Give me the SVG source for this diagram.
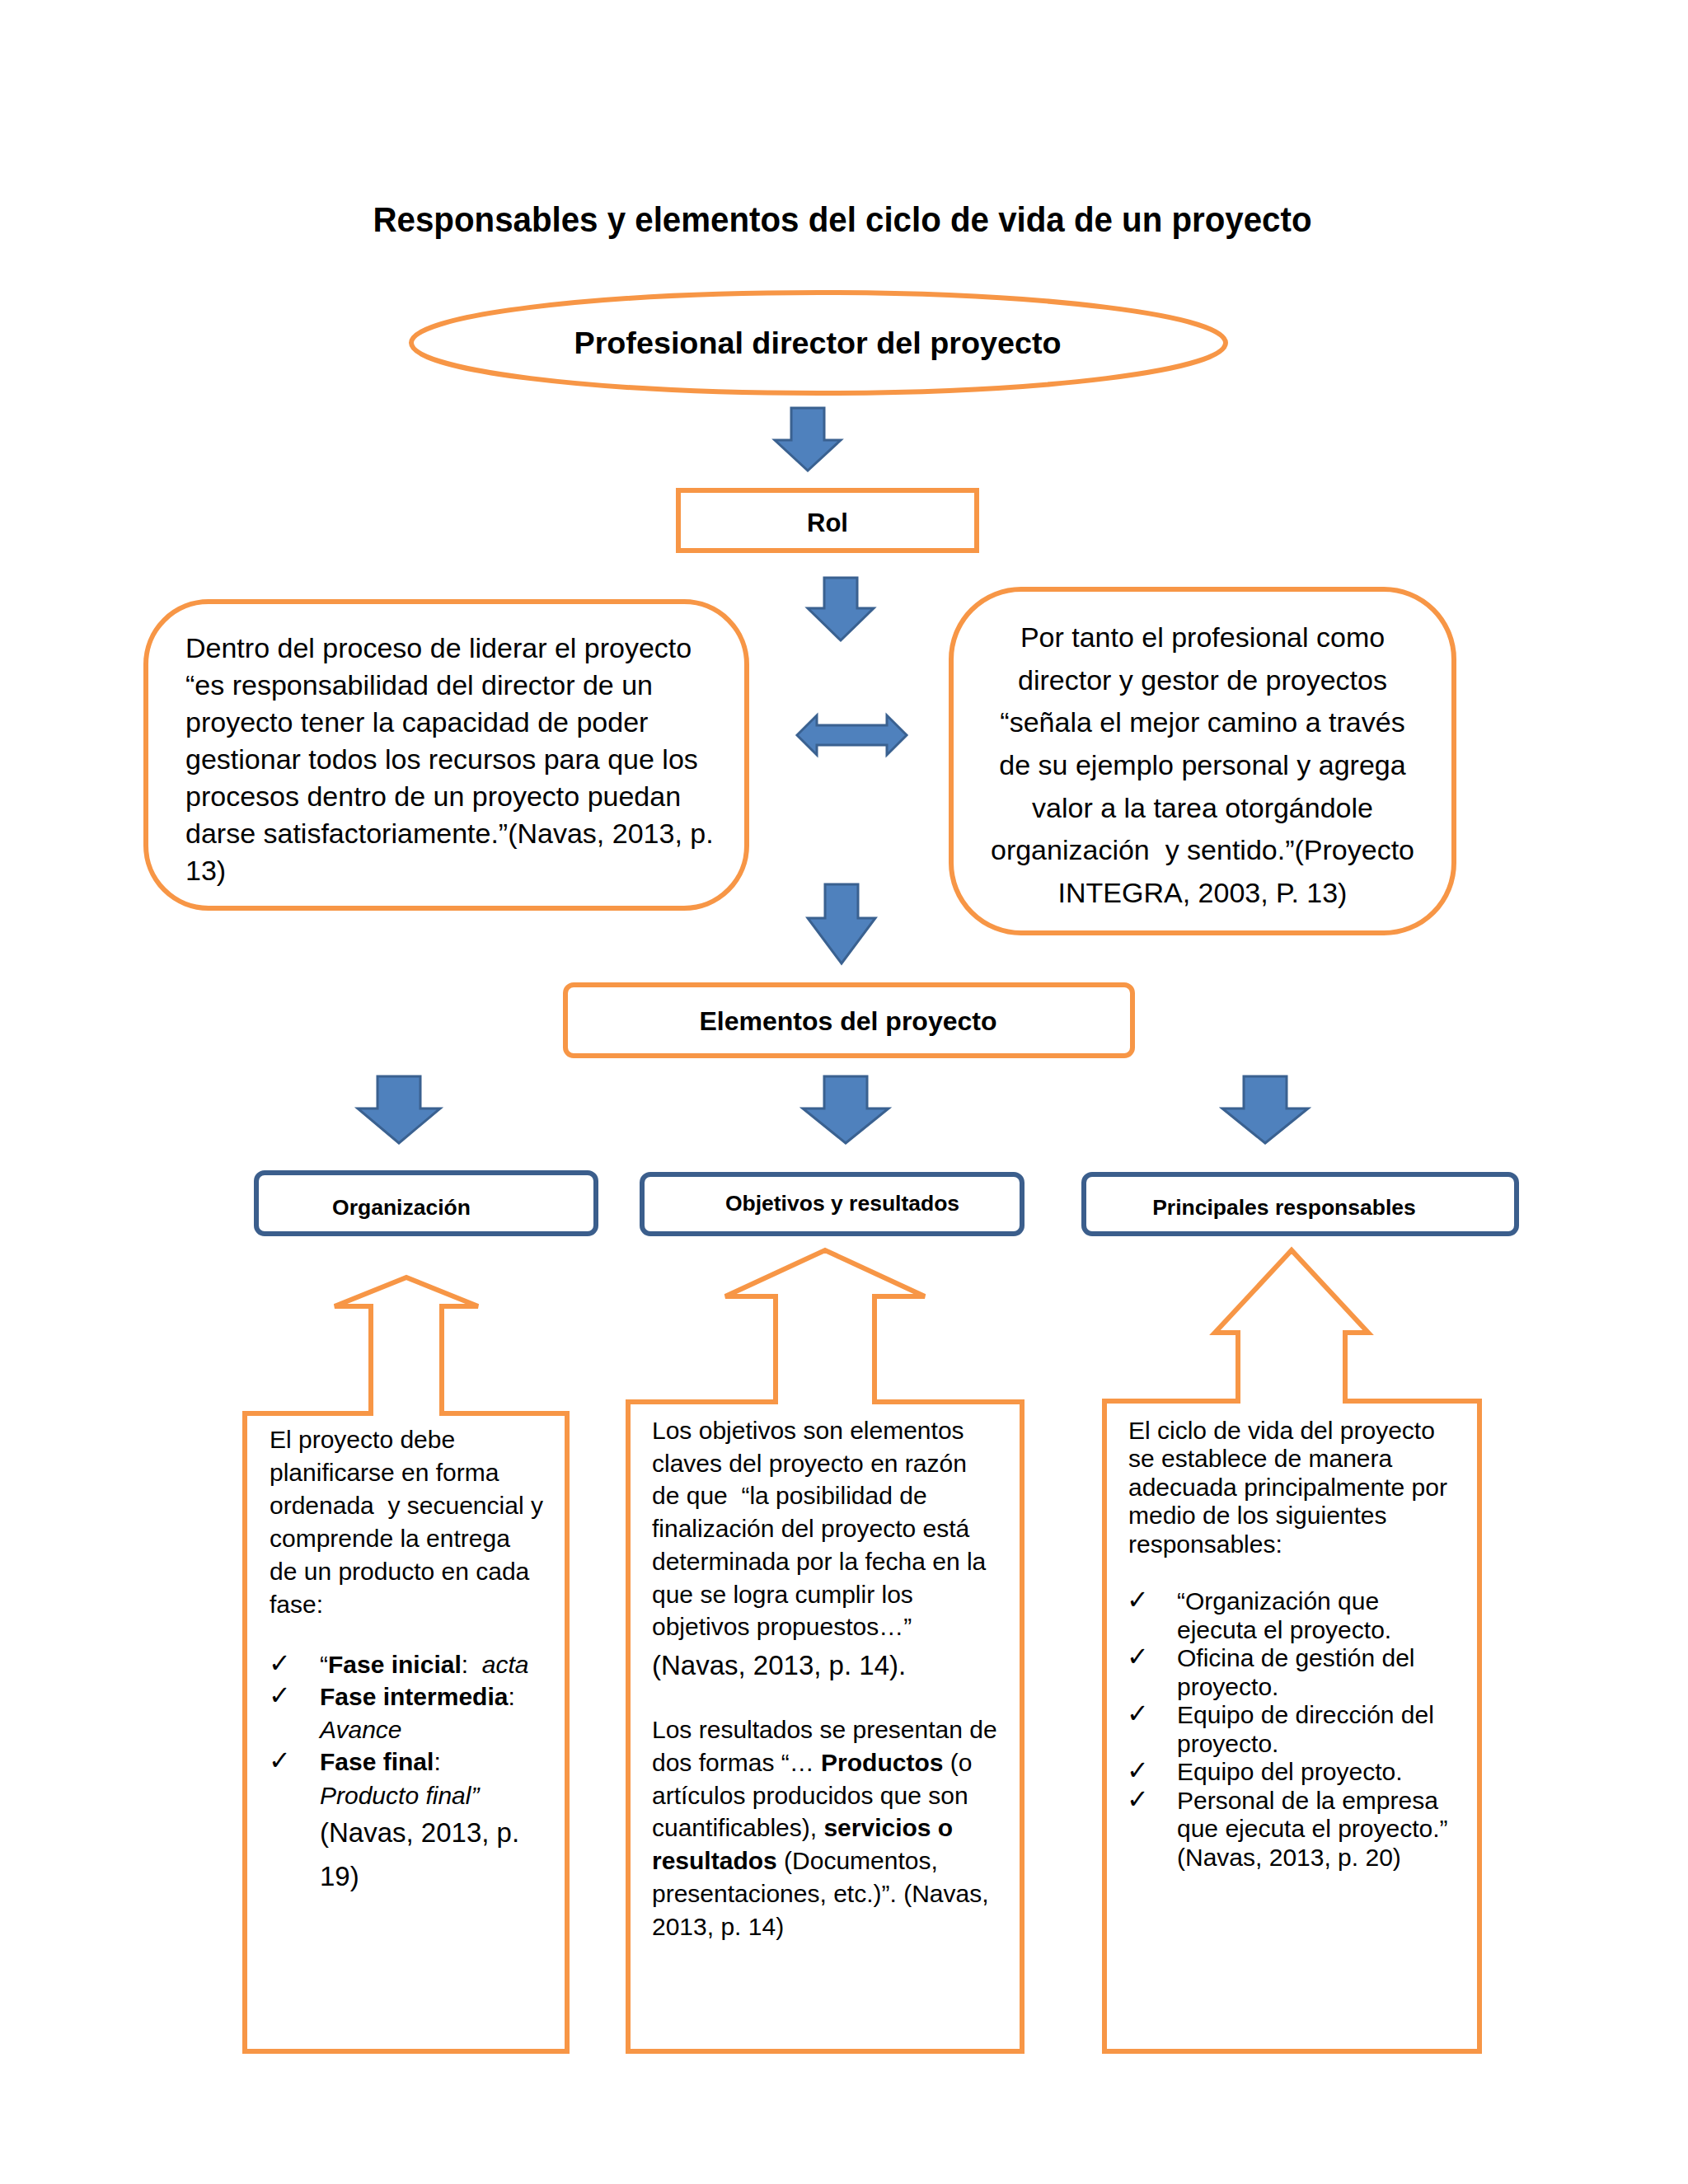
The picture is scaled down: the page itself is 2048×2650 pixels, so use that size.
<svg xmlns="http://www.w3.org/2000/svg" width="2048" height="2650" viewBox="0 0 2048 2650">
<style>
.o{fill:#fff;stroke:#F79646;stroke-width:6}
.b{fill:#fff;stroke:#3B5E8C;stroke-width:6}
.ar{fill:#4F81BD;stroke:#3A6190;stroke-width:3;stroke-linejoin:miter}
text{font-family:"Liberation Sans",Arial,sans-serif;fill:#000}
.c{font-size:34px}
.a{font-size:30px}
.n{font-size:33px}
.bd{font-weight:bold}
.ck{font-family:"DejaVu Sans",sans-serif;font-size:32px}
</style>
<rect width="2048" height="2650" fill="#fff"/>
<g id="title">
<text x="1022" y="281" text-anchor="middle" font-size="42" font-weight="bold" textLength="1139" lengthAdjust="spacingAndGlyphs">Responsables y elementos del ciclo de vida de un proyecto</text>
</g>
<g id="n-director">
<ellipse class="o" cx="993" cy="416" rx="494" ry="61"/>
<text x="992" y="429" text-anchor="middle" font-size="36" font-weight="bold" textLength="591" lengthAdjust="spacingAndGlyphs">Profesional director del proyecto</text>
</g>
<g id="n-rol">
<rect class="o" x="823" y="595" width="362" height="73"/>
<text x="1004" y="645" text-anchor="middle" font-size="31" class="bd">Rol</text>
</g>
<g id="n-izq">
<rect class="o" x="177" y="730" width="729" height="372" rx="76"/>
<text class="c" x="225" y="798">Dentro del proceso de liderar el proyecto</text>
<text class="c" x="225" y="843">“es responsabilidad del director de un</text>
<text class="c" x="225" y="888">proyecto tener la capacidad de poder</text>
<text class="c" x="225" y="933">gestionar todos los recursos para que los</text>
<text class="c" x="225" y="978">procesos dentro de un proyecto puedan</text>
<text class="c" x="225" y="1023">darse satisfactoriamente.”(Navas, 2013, p.</text>
<text class="c" x="225" y="1068">13)</text>
</g>
<g id="n-der">
<rect class="o" x="1154" y="715" width="610" height="417" rx="85"/>
<text class="c" x="1459" y="785" text-anchor="middle">Por tanto el profesional como</text>
<text class="c" x="1459" y="837" text-anchor="middle">director y gestor de proyectos</text>
<text class="c" x="1459" y="888" text-anchor="middle">“señala el mejor camino a través</text>
<text class="c" x="1459" y="940" text-anchor="middle">de su ejemplo personal y agrega</text>
<text class="c" x="1459" y="992" text-anchor="middle">valor a la tarea otorgándole</text>
<text class="c" x="1459" y="1043" text-anchor="middle" xml:space="preserve">organización  y sentido.”(Proyecto</text>
<text class="c" x="1459" y="1095" text-anchor="middle">INTEGRA, 2003, P. 13)</text>
</g>
<g id="n-elementos">
<rect class="o" x="686" y="1195" width="688" height="86" rx="10"/>
<text x="1029" y="1250" text-anchor="middle" font-size="32" class="bd">Elementos del proyecto</text>
</g>
<g id="n-organizacion">
<rect class="b" x="311" y="1423" width="412" height="74" rx="10"/>
<text x="487" y="1474" text-anchor="middle" font-size="26.5" class="bd">Organización</text>
</g>
<g id="n-objetivos">
<rect class="b" x="779" y="1425" width="461" height="72" rx="10"/>
<text x="1022" y="1469" text-anchor="middle" font-size="26.5" class="bd">Objetivos y resultados</text>
</g>
<g id="n-principales">
<rect class="b" x="1315" y="1425" width="525" height="72" rx="10"/>
<text x="1558" y="1474" text-anchor="middle" font-size="26.5" class="bd">Principales responsables</text>
</g>
<g id="n-org-detalle">
<polygon class="o" points="297,1715 450,1715 450,1585 406,1585 493,1550 580,1585 536,1585 536,1715 688,1715 688,2489 297,2489"/>
<text class="a" x="327" y="1757">El proyecto debe</text>
<text class="a" x="327" y="1797">planificarse en forma</text>
<text class="a" x="327" y="1837" xml:space="preserve">ordenada  y secuencial y</text>
<text class="a" x="327" y="1877">comprende la entrega</text>
<text class="a" x="327" y="1917">de un producto en cada</text>
<text class="a" x="327" y="1957">fase:</text>
<text class="ck" x="326" y="2029">✓</text>
<text class="a" x="388" y="2030" xml:space="preserve">“<tspan class="bd">Fase inicial</tspan>:  <tspan font-style="italic">acta</tspan></text>
<text class="ck" x="326" y="2068">✓</text>
<text class="a" x="388" y="2069"><tspan class="bd">Fase intermedia</tspan>:</text>
<text class="a" x="388" y="2109" font-style="italic">Avance</text>
<text class="ck" x="326" y="2147">✓</text>
<text class="a" x="388" y="2148"><tspan class="bd">Fase final</tspan>:</text>
<text class="a" x="388" y="2189" font-style="italic">Producto final”</text>
<text class="n" x="388" y="2235">(Navas, 2013, p.</text>
<text class="n" x="388" y="2288">19)</text>
</g>
<g id="n-obj-detalle">
<polygon class="o" points="762,1701 941,1701 941,1573 880,1573 1001,1517 1122,1573 1061,1573 1061,1701 1240,1701 1240,2489 762,2489"/>
<text class="a" x="791" y="1746">Los objetivos son elementos</text>
<text class="a" x="791" y="1786">claves del proyecto en razón</text>
<text class="a" x="791" y="1825" xml:space="preserve">de que  “la posibilidad de</text>
<text class="a" x="791" y="1865">finalización del proyecto está</text>
<text class="a" x="791" y="1905">determinada por la fecha en la</text>
<text class="a" x="791" y="1945">que se logra cumplir los</text>
<text class="a" x="791" y="1984">objetivos propuestos…”</text>
<text class="n" x="791" y="2032">(Navas, 2013, p. 14).</text>
<text class="a" x="791" y="2109">Los resultados se presentan de</text>
<text class="a" x="791" y="2149">dos formas “… <tspan class="bd">Productos</tspan> (o</text>
<text class="a" x="791" y="2189">artículos producidos que son</text>
<text class="a" x="791" y="2228">cuantificables), <tspan class="bd">servicios o</tspan></text>
<text class="a" x="791" y="2268"><tspan class="bd">resultados</tspan> (Documentos,</text>
<text class="a" x="791" y="2308">presentaciones, etc.)”. (Navas,</text>
<text class="a" x="791" y="2348">2013, p. 14)</text>
</g>
<g id="n-resp-detalle">
<polygon class="o" points="1340,1700 1502,1700 1502,1617 1474,1617 1567,1517 1660,1617 1632,1617 1632,1700 1795,1700 1795,2489 1340,2489"/>
<text class="a" x="1369" y="1746">El ciclo de vida del proyecto</text>
<text class="a" x="1369" y="1780">se establece de manera</text>
<text class="a" x="1369" y="1815">adecuada principalmente por</text>
<text class="a" x="1369" y="1849">medio de los siguientes</text>
<text class="a" x="1369" y="1884">responsables:</text>
<text class="ck" x="1367" y="1952">✓</text>
<text class="a" x="1428" y="1953">“Organización que</text>
<text class="a" x="1428" y="1988">ejecuta el proyecto.</text>
<text class="ck" x="1367" y="2021">✓</text>
<text class="a" x="1428" y="2022">Oficina de gestión del</text>
<text class="a" x="1428" y="2057">proyecto.</text>
<text class="ck" x="1367" y="2090">✓</text>
<text class="a" x="1428" y="2091">Equipo de dirección del</text>
<text class="a" x="1428" y="2126">proyecto.</text>
<text class="ck" x="1367" y="2159">✓</text>
<text class="a" x="1428" y="2160">Equipo del proyecto.</text>
<text class="ck" x="1367" y="2194">✓</text>
<text class="a" x="1428" y="2195">Personal de la empresa</text>
<text class="a" x="1428" y="2229">que ejecuta el proyecto.”</text>
<text class="a" x="1428" y="2264">(Navas, 2013, p. 20)</text>
</g>
<g id="connectors">
<polygon class="ar" points="960,495 1000,495 1000,534 1020,534 980,571 940,534 960,534"/>
<polygon class="ar" points="1000,701 1040,701 1040,738 1060,738 1020,777 980,738 1000,738"/>
<polygon class="ar" points="967,892 991,868 991,880 1076,880 1076,868 1100,892 1076,916 1076,904 991,904 991,916"/>
<polygon class="ar" points="1001,1073 1041,1073 1041,1114 1062,1114 1021,1169 980,1114 1001,1114"/>
<polygon class="ar" points="458,1306 510,1306 510,1345 534,1345 484,1387 434,1345 458,1345"/>
<polygon class="ar" points="1000,1306 1052,1306 1052,1345 1078,1345 1026,1387 974,1345 1000,1345"/>
<polygon class="ar" points="1509,1306 1561,1306 1561,1345 1587,1345 1535,1387 1483,1345 1509,1345"/>
</g>
</svg>
